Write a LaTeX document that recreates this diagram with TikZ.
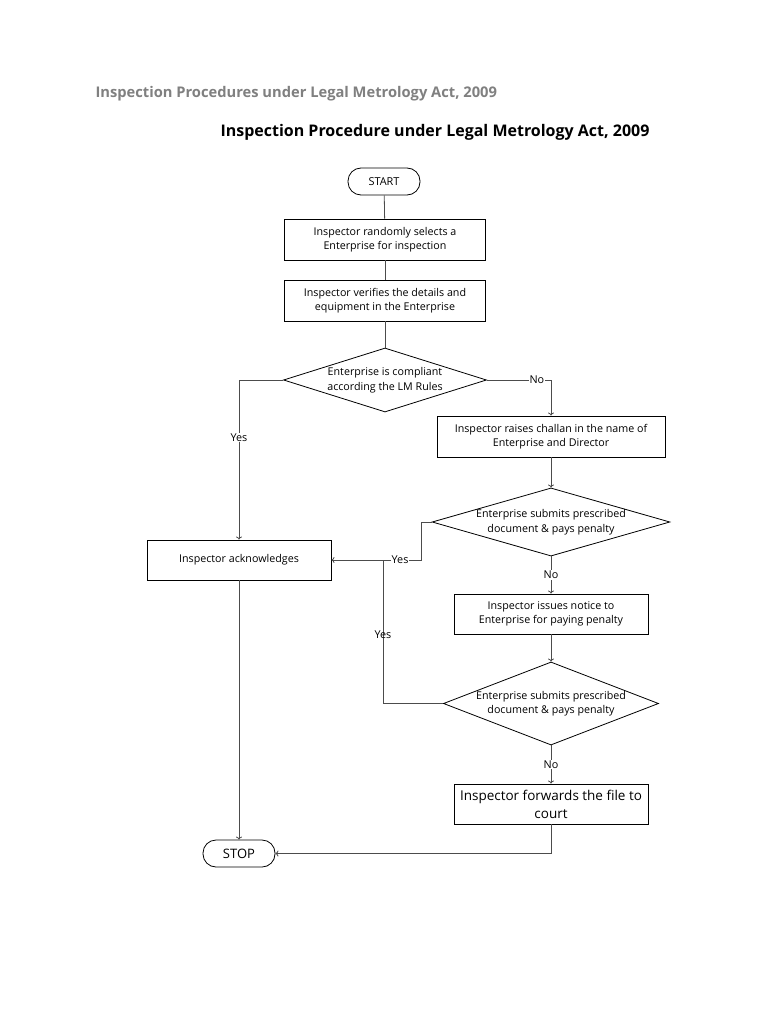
\documentclass[tikz,border=0pt]{standalone}
\usepackage{fontspec}
\setmainfont{Open Sans}
\usetikzlibrary{shapes.geometric,arrows.meta}

\begin{document}
\begin{tikzpicture}[x=1pt,y=-1pt,
	box/.style={draw, line width=0.9pt, minimum height=41pt, inner sep=0pt, align=center, font=\fontsize{10.7}{14.5}\selectfont},
	term/.style={draw, line width=0.8pt, rounded corners=13pt, minimum width=72pt, minimum height=27pt, inner sep=0pt},
	dec/.style={draw, diamond, line width=0.8pt, inner sep=0pt, align=center, font=\fontsize{10.7}{14.5}\selectfont},
	line/.style={draw=black!70, line width=0.8pt},
	arr/.style={line, -{To[length=3pt,width=6pt]}},
	lbl/.style={inner sep=1pt, font=\fontsize{10.8}{12}\selectfont}]
		\useasboundingbox[fill=white] (0,0) rectangle (768,1024);
		
		\node[anchor=west, text=black!50, font=\fontsize{14.7}{17}\selectfont\bfseries] (head) at (92,94) {Inspection Procedures under Legal Metrology Act, 2009};
		\node[font=\fontsize{16}{19}\selectfont\bfseries] (title) at (435,132) {Inspection Procedure under Legal Metrology Act, 2009};
		
		\node[term, font=\fontsize{10.9}{12}\selectfont] (start) at (384,181.5) {START};
		\node[box, minimum width=201pt] (pick) at (385,239.5) {Inspector randomly selects a\\Enterprise for inspection};
		\node[box, minimum width=201pt] (check) at (385,300.5) {Inspector verifies the details and\\equipment in the Enterprise};
		\node[dec, aspect=3.17, minimum width=203pt, minimum height=64pt] (comply) at (385,380) {Enterprise is compliant\\according the LM Rules};
		\node[box, minimum width=228pt] (challan) at (551,436.5) {Inspector raises challan in the name of\\Enterprise and Director};
		\node[dec, aspect=3.49, minimum width=237pt, minimum height=68pt] (pay1) at (551,522) {Enterprise submits prescribed\\document \& pays penalty};
		\node[box, minimum width=184pt, minimum height=40pt] (ack) at (239,560) {Inspector acknowledges};
		\node[box, minimum width=194pt, minimum height=40pt] (notice) at (551,614) {Inspector issues notice to\\Enterprise for paying penalty};
		\node[dec, aspect=2.59, minimum width=215pt, minimum height=83pt] (pay2) at (551,703.5) {Enterprise submits prescribed\\document \& pays penalty};
		\node[box, minimum width=194pt, minimum height=40pt, font=\fontsize{13.5}{18}\selectfont] (court) at (551,804) {Inspector forwards the file to\\court};
		\node[term, font=\fontsize{13}{14}\selectfont] (stop) at (239,853.5) {STOP};
		
		\coordinate (join) at (383,560);
		
		\draw[line] (start) -- (pick);
		\draw[line] (pick) -- (check);
		\draw[line] (check) -- (comply);
		\draw[arr] (comply.west) -| (ack.north) node[lbl, fill=white, pos=0.68] {Yes};
		\draw[arr] (comply.east) -| (challan.north) node[lbl, fill=white, pos=0.39] {No};
		\draw[arr] (challan) -- (pay1);
		\draw[arr] (pay1.west) -- ++(-10,0) |- (ack.east) node[lbl, fill=white, pos=0.62] {Yes};
		\draw[arr] (pay1) -- (notice) node[lbl, fill=white, midway] {No};
		\draw[arr] (notice) -- (pay2);
		\draw[line] (pay2.west) -| (join) node[lbl, pos=0.74] {Yes};
		\draw[arr] (pay2) -- (court) node[lbl, fill=white, midway] {No};
		\draw[arr] (ack) -- (stop);
		\draw[arr] (court.south) |- (stop.east);
	\end{tikzpicture}
\end{document}
